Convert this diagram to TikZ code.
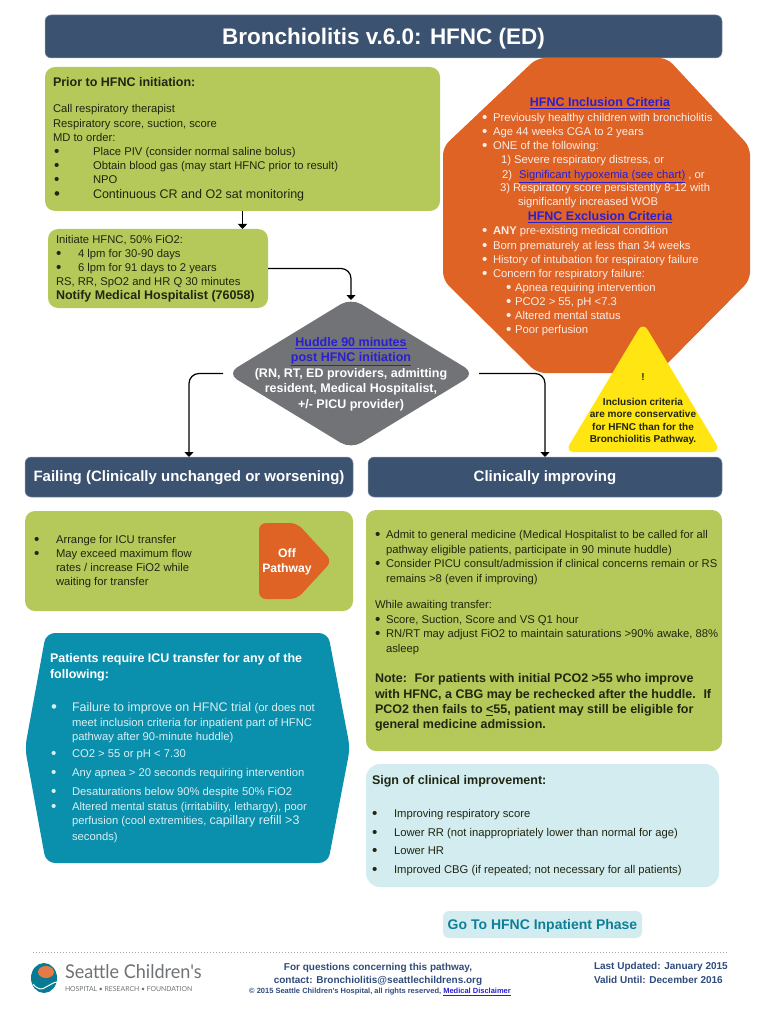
\documentclass[tikz,border=0pt]{standalone}
\usepackage{fontspec}
\setmainfont{Liberation Sans}
\newfontfamily\logofont{Lato}
\usetikzlibrary{arrows.meta,shapes.geometric}
\definecolor{navy}{HTML}{3B5270}
\definecolor{leaf}{HTML}{B5C95A}
\definecolor{rust}{HTML}{E06326}
\definecolor{slate}{HTML}{717377}
\definecolor{teal2}{HTML}{0A8FAD}
\definecolor{pale}{HTML}{D3ECF0}
\definecolor{sun}{HTML}{FFE512}
\definecolor{linkc}{HTML}{2A1FD0}
\definecolor{ink}{HTML}{20260F}
\definecolor{foot}{HTML}{2F4B7C}
\definecolor{gotxt}{HTML}{0F7F98}
\definecolor{tealtxt}{HTML}{D8F0F4}
\definecolor{logog}{HTML}{6E7275}
\newcounter{tl}
\tikzset{
  txt/.style={anchor=mid west,inner sep=0pt,outer sep=0pt,text=ink},
  ctr/.style={anchor=mid,inner sep=0pt,outer sep=0pt,text=ink},
  sz/.style={font=\fontsize{#1}{#1}\selectfont},
  bsz/.style={font=\fontsize{#1}{#1}\selectfont\bfseries},
  panel/.style={rectangle,rounded corners=10pt,inner sep=0pt,outer sep=0pt,fill=leaf},
  bar/.style={rectangle,rounded corners=6pt,inner sep=0pt,outer sep=0pt,fill=navy,draw=navy!60!white,line width=.5pt},
  conn/.style={draw=black,line width=1.2pt,-{Triangle[width=9pt,length=5pt]}},
  wh/.style={text=white},
  lt/.style={text=tealtxt},
  cr/.style={text=white!88!rust},
}
\newcommand\T[4][]{\stepcounter{tl}\node[txt,sz=11.25,#1] (t\arabic{tl}) at (#2,{#3+8}) {#4};}
\newcommand\C[4][]{\stepcounter{tl}\node[ctr,sz=11.25,#1] (t\arabic{tl}) at (#2,{#3+8}) {#4};}
\newcommand\Tb[5][]{\stepcounter{tl}\node[txt,sz=11.25,#1] (t\arabic{tl}) at (#2,{#4+8}) {\makebox[\dimexpr#3pt-#2pt\relax][l]{\raisebox{-.4pt}{\scalebox{1.35}{•}}}#5};}
\newcommand\lnk[1]{\textcolor{linkc}{\underline{#1}}}
\newcommand\bartext[2]{\raisebox{-#1pt}[0pt][0pt]{#2}}
\begin{document}
\begin{tikzpicture}[x=1pt,y=-1pt]
\useasboundingbox (0,0) rectangle (768,1024);
% title
\node[bar,minimum width=677pt,minimum height=43pt,text=white,font=\fontsize{22.5}{22.5}\selectfont\bfseries] (title) at (383.5,36.5) {\bartext{8}{Bronchiolitis v.6.0: HFNC (ED)}};
% prior box
\node[panel,minimum width=395pt,minimum height=144pt] (prior) at (242.5,139) {};
\T[bsz=12.5]{53}{76}{Prior to HFNC initiation:}
\T{53}{102}{Call respiratory therapist}
\T{53}{117}{Respiratory score, suction, score}
\T{53}{131}{MD to order:}
\Tb{54}{93}{145}{Place PIV (consider normal saline bolus)}
\Tb{54}{93}{159}{Obtain blood gas (may start HFNC prior to result)}
\Tb{54}{93}{173}{NPO}
\Tb[sz=12.5]{54}{93}{188}{Continuous CR and O2 sat monitoring}
% initiate
\node[panel,minimum width=220pt,minimum height=79pt] (init) at (158,268.5) {};
\T{56}{233}{Initiate HFNC, 50\% FiO2:}
\Tb{56}{78}{247}{4 lpm for 30-90 days}
\Tb{56}{78}{261}{6 lpm for 91 days to 2 years}
\T{56}{275}{RS, RR, SpO2 and HR Q 30 minutes}
\T[bsz=12.5]{56}{289}{Notify Medical Hospitalist (76058)}
% octagon
\fill[rust,rounded corners=8pt] (537,58) -- (667,58) -- (750,147) -- (750,280) -- (658,373) -- (537,373) -- (443,280) -- (443,147) -- cycle;
\C[bsz=12.5,text=linkc]{600}{96}{\underline{HFNC Inclusion Criteria}}
\Tb[cr]{482}{493}{111}{Previously healthy children with bronchiolitis}
\Tb[cr]{482}{493}{125}{Age 44 weeks CGA to 2 years}
\Tb[cr]{482}{493}{139}{ONE of the following:}
\T[cr]{501}{153}{1) Severe respiratory distress, or}
\T[cr]{502}{168}{2)\hspace{7pt}\lnk{Significant hypoxemia (see chart)} , or}
\T[cr]{500}{181}{3) Respiratory score persistently 8-12 with}
\T[cr]{518}{195}{significantly increased WOB}
\C[bsz=12.5,text=linkc]{600}{210}{\underline{HFNC Exclusion Criteria}}
\Tb[cr]{482}{493}{224}{\textbf{ANY} pre-existing medical condition}
\Tb[cr]{482}{493}{239}{Born prematurely at less than 34 weeks}
\Tb[cr]{482}{493}{253}{History of intubation for respiratory failure}
\Tb[cr]{482}{493}{267}{Concern for respiratory failure:}
\Tb[cr]{506}{515}{281}{Apnea requiring intervention}
\Tb[cr]{506}{515}{295}{PCO2 > 55, pH <7.3}
\Tb[cr]{506}{515}{309}{Altered mental status}
\Tb[cr]{506}{515}{323}{Poor perfusion}
% triangle
\fill[sun,rounded corners=9pt] (643,322) -- (721,452) -- (565,452) -- cycle;
\C[bsz=10]{643}{370}{!}
\C[bsz=10]{643}{395}{Inclusion criteria}
\C[bsz=10]{643}{407}{are more conservative}
\C[bsz=10]{643}{420}{for HFNC than for the}
\C[bsz=10]{643}{432}{Bronchiolitis Pathway.}
% diamond
\node[diamond,fill=slate,rounded corners=12pt,inner sep=0pt,outer sep=0pt,minimum width=248pt,minimum height=151pt,aspect=1.64] (huddle) at (351,373.5) {};
\C[bsz=12.5,text=linkc]{351}{336}{\underline{Huddle 90 minutes}}
\C[bsz=12.5,text=linkc]{351}{351}{\underline{post HFNC initiation}}
\C[bsz=12.5,wh]{351}{367}{(RN, RT, ED providers, admitting}
\C[bsz=12.5,wh]{351}{382}{resident, Medical Hospitalist,}
\C[bsz=12.5,wh]{351}{398}{+/- PICU provider)}
% bars
\node[bar,minimum width=328pt,minimum height=40pt,text=white,font=\fontsize{15}{15}\selectfont\bfseries] (fail) at (189,477) {\bartext{4.5}{Failing (Clinically unchanged or worsening)}};
\node[bar,minimum width=354pt,minimum height=40pt,text=white,font=\fontsize{15}{15}\selectfont\bfseries] (improve) at (545,477) {\bartext{4.5}{Clinically improving}};
% connectors
\draw[conn] (prior.south) -- (init.north -| prior.south);
\draw[conn,rounded corners=10pt] (init.east) -| ([yshift=-2pt]huddle.north);
\coordinate (hl) at ([xshift=-4pt]huddle.west);
\coordinate (hr) at ([xshift=4pt]huddle.east);
\draw[conn,rounded corners=10pt] (hl) -| (fail.north);
\draw[conn,rounded corners=10pt] (hr) -| (improve.north);
% off pathway
\node[panel,minimum width=328pt,minimum height=100pt] (failbox) at (189,561) {};
\Tb{34}{56}{533}{Arrange for ICU transfer}
\Tb{34}{56}{547}{May exceed maximum flow}
\T{56}{561}{rates / increase FiO2 while}
\T{56}{575}{waiting for transfer}
\fill[rust,rounded corners=7pt] (259,523) -- (297,523) -- (332,561) -- (297,599) -- (259,599) -- cycle;
\C[bsz=12.2,wh]{287}{547}{Off}
\C[bsz=12.2,wh]{287}{562}{Pathway}
% teal
\fill[teal2,rounded corners=9pt] (46,633) -- (328,633) -- (350,748) -- (328,863) -- (46,863) -- (25,748) -- cycle;
\T[bsz=12.5,wh]{50}{652}{Patients require ICU transfer for any of the}
\T[bsz=12.5,wh]{50}{668}{following:}
\Tb[lt,sz=12.5]{51}{72}{701}{Failure to improve on HFNC trial {\fontsize{11.25}{11.25}\selectfont (or does not}}
\T[lt]{72}{716}{meet inclusion criteria for inpatient part of HFNC}
\T[lt]{72}{730}{pathway after 90-minute huddle)}
\Tb[lt]{51}{72}{747}{CO2 > 55 or pH < 7.30}
\Tb[lt]{51}{72}{766}{Any apnea > 20 seconds requiring intervention}
\Tb[lt]{51}{72}{785}{Desaturations below 90\% despite 50\% FiO2}
\Tb[lt]{51}{72}{800}{Altered mental status (irritability, lethargy), poor}
\T[lt]{72}{814}{perfusion (cool extremities, {\fontsize{12.5}{12.5}\selectfont capillary refill >3}}
\T[lt]{72}{830}{seconds)}
% improving box
\node[panel,minimum width=356pt,minimum height=241pt] (impbox) at (544,630.5) {};
\Tb{375}{386}{528}{Admit to general medicine (Medical Hospitalist to be called for all}
\T{386}{543}{pathway eligible patients, participate in 90 minute huddle)}
\Tb{375}{386}{557}{Consider PICU consult/admission if clinical concerns remain or RS}
\T{386}{572}{remains >8 (even if improving)}
\T{375}{598}{While awaiting transfer:}
\Tb{375}{386}{613}{Score, Suction, Score and VS Q1 hour}
\Tb{375}{386}{627}{RN/RT may adjust FiO2 to maintain saturations >90\% awake, 88\%}
\T{386}{642}{asleep}
\T[bsz=12.5]{375}{672}{Note:\hspace{3pt} For patients with initial PCO2 >55 who improve}
\T[bsz=12.5]{375}{688}{with HFNC, a CBG may be rechecked after the huddle.\hspace{3pt} If}
\T[bsz=12.5]{375}{703}{PCO2 then fails to \underline{<}55, patient may still be eligible for}
\T[bsz=12.5]{375}{718}{general medicine admission.}
% signs
\node[panel,fill=pale,rounded corners=14pt,minimum width=353pt,minimum height=123pt] (signs) at (542.5,825.5) {};
\T[bsz=12.5]{372}{774}{Sign of clinical improvement:}
\Tb{372}{394}{807}{Improving respiratory score}
\Tb{372}{394}{826}{Lower RR (not inappropriately lower than normal for age)}
\Tb{372}{394}{844}{Lower HR}
\Tb{372}{394}{863}{Improved CBG (if repeated; not necessary for all patients)}
% go to
\node[panel,fill=pale,rounded corners=6pt,minimum width=199pt,minimum height=27pt,text=gotxt,font=\fontsize{14}{14}\selectfont\bfseries] (goto) at (542.5,924.5) {\bartext{5}{Go To HFNC Inpatient Phase}};
% footer
\coordinate (dl) at (33,952); \coordinate (dr) at (727,952);
\draw[gray!70,line width=1pt,dash pattern=on 1pt off 2pt] (dl) -- (dr);
\fill[teal2!85!black] (44,978) ellipse [x radius=13pt,y radius=15pt];
\fill[rust!85!white] (46,972) ellipse [x radius=8pt,y radius=6pt];
\draw[white,line width=1pt] (33,984) .. controls (38,990) and (42,990) .. (46,987) .. controls (50,985) and (54,982) .. (57,982);
\node[inner sep=0pt,outer sep=0pt,anchor=mid west,text=logog,font=\fontsize{19}{19}\logofont] (logo) at (65,976) {\scalebox{.95}[1]{Seattle Children's}};
\node[inner sep=0pt,outer sep=0pt,anchor=mid west,text=logog,font=\fontsize{6.85}{6.85}\logofont] (logosub) at (65,989) {HOSPITAL • RESEARCH • FOUNDATION};
\C[bsz=10,text=foot]{378}{960}{For questions concerning this pathway,}
\C[bsz=10,text=foot]{378}{973}{contact: Bronchiolitis@seattlechildrens.org}
\C[bsz=7.5,text=foot]{380}{983}{© 2015 Seattle Children's Hospital, all rights reserved, \lnk{Medical Disclaimer}}
\T[bsz=10,text=foot]{594}{959}{Last Updated: January 2015}
\T[bsz=10,text=foot]{594}{973}{Valid Until: December 2016}
\end{tikzpicture}
\end{document}
